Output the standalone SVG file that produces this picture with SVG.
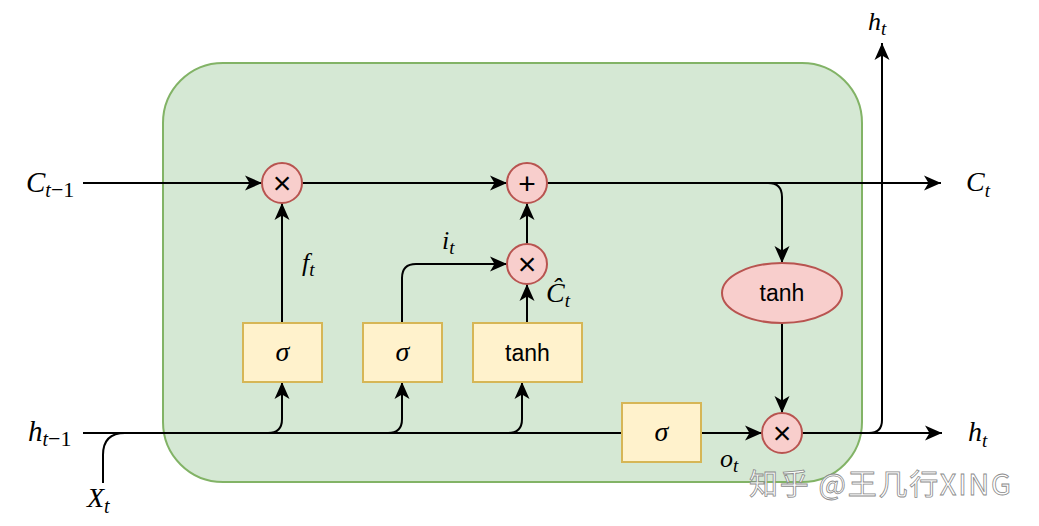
<svg xmlns="http://www.w3.org/2000/svg" width="1039" height="526" viewBox="0 0 1039 526">
<defs>
<style>
.op{fill:#f8cecc;stroke:#b85450;stroke-width:2}
.box{fill:#fff2cc;stroke:#d6b656;stroke-width:2}
.con{fill:none;stroke:#000;stroke-width:2}
.m{font-family:"Liberation Serif",serif;font-style:italic;fill:#000}
.u{font-family:"Liberation Serif",serif;font-style:normal}
.s{font-family:"Liberation Sans",sans-serif;fill:#000}
</style>
<marker id="arr" markerUnits="userSpaceOnUse" markerWidth="18" markerHeight="16" viewBox="0 0 18 16" refX="17" refY="8" orient="auto">
<path d="M0,0.5 L17,8 L0,15.5 L4.5,8 Z" fill="#000"/>
</marker>
</defs>
<rect width="1039" height="526" fill="#fff"/>
<g id="cell">
<rect x="163" y="63" width="699" height="419" rx="60" ry="60" fill="#d5e8d4" stroke="#82b366" stroke-width="2"/>
</g>
<g id="connectors" class="con">
<path d="M83,183 H262" marker-end="url(#arr)"/>
<path d="M302,183 H507" marker-end="url(#arr)"/>
<path d="M547,183 H941" marker-end="url(#arr)"/>
<path d="M547,183 H768 Q782,183 782,197 V263" marker-end="url(#arr)"/>
<path d="M782,323 V413" marker-end="url(#arr)"/>
<path d="M802,433 H942" marker-end="url(#arr)"/>
<path d="M802,433 H869 Q882,433 882,420 V43" marker-end="url(#arr)"/>
<path d="M83,433 H622"/>
<path d="M125,433 Q103,433 103,455 V483"/>
<path d="M268,433 Q282,433 282,419 V382" marker-end="url(#arr)"/>
<path d="M388,433 Q402,433 402,419 V382" marker-end="url(#arr)"/>
<path d="M508,433 Q522,433 522,419 V382" marker-end="url(#arr)"/>
<path d="M701,433 H762" marker-end="url(#arr)"/>
<path d="M282,323 V203" marker-end="url(#arr)"/>
<path d="M402,323 V278 Q402,264 416,264 H507" marker-end="url(#arr)"/>
<path d="M527,323 V284" marker-end="url(#arr)"/>
<path d="M527,244 V203" marker-end="url(#arr)"/>
</g>
<g id="mul-forget">
<circle class="op" cx="282" cy="183" r="20"/>
<text class="s" x="282" y="194" font-size="32" text-anchor="middle">×</text>
</g>
<g id="add">
<circle class="op" cx="527" cy="183" r="20"/>
<text class="s" x="527" y="194" font-size="30" text-anchor="middle">+</text>
</g>
<g id="mul-input">
<circle class="op" cx="527" cy="264" r="20"/>
<text class="s" x="527" y="275" font-size="32" text-anchor="middle">×</text>
</g>
<g id="mul-output">
<circle class="op" cx="782" cy="433" r="20"/>
<text class="s" x="782" y="444" font-size="32" text-anchor="middle">×</text>
</g>
<g id="tanh-cell">
<ellipse class="op" cx="782" cy="293" rx="60" ry="30"/>
<text class="s" x="782" y="301" font-size="23" text-anchor="middle">tanh</text>
</g>
<g id="sigma-forget">
<rect class="box" x="243" y="323" width="79" height="59"/>
<text class="m" x="282.5" y="361" font-size="28" text-anchor="middle">σ</text>
</g>
<g id="sigma-input">
<rect class="box" x="363" y="323" width="79" height="59"/>
<text class="m" x="402.5" y="361" font-size="28" text-anchor="middle">σ</text>
</g>
<g id="tanh-candidate">
<rect class="box" x="473" y="323" width="109" height="59"/>
<text class="s" x="527.5" y="361" font-size="23" text-anchor="middle">tanh</text>
</g>
<g id="sigma-output">
<rect class="box" x="622" y="403" width="79" height="59"/>
<text class="m" x="661.5" y="441" font-size="28" text-anchor="middle">σ</text>
</g>
<g id="labels">
<text class="m" x="26" y="192" font-size="29">C<tspan font-size="20" dy="5">t</tspan><tspan class="u" font-size="22">−1</tspan></text>
<text class="m" x="28" y="441" font-size="29">h<tspan font-size="20" dy="5">t</tspan><tspan class="u" font-size="22">−1</tspan></text>
<text class="m" x="87" y="507" font-size="28">X<tspan font-size="20" dy="6">t</tspan></text>
<text class="m" x="302" y="271" font-size="26">f<tspan font-size="19" dy="5">t</tspan></text>
<text class="m" x="442" y="249" font-size="26">i<tspan font-size="19" dy="5">t</tspan></text>
<text class="m" x="546" y="302" font-size="28">Ĉ<tspan font-size="19" dy="5">t</tspan></text>
<text class="m" x="720" y="467" font-size="26">o<tspan font-size="19" dy="5">t</tspan></text>
<text class="m" x="868" y="30" font-size="26">h<tspan font-size="19" dy="5">t</tspan></text>
<text class="m" x="966" y="191" font-size="28">C<tspan font-size="19" dy="6">t</tspan></text>
<text class="m" x="968" y="441" font-size="28">h<tspan font-size="19" dy="6">t</tspan></text>
</g>
<g id="watermark">
<text x="749" y="495" font-family="'Noto Sans CJK SC',sans-serif" font-size="29" textLength="262" lengthAdjust="spacing" fill="#ffffff" stroke="#8a8a8a" stroke-width="0.8" fill-opacity="0.9">知乎 @王几行XING</text>
</g>
</svg>
